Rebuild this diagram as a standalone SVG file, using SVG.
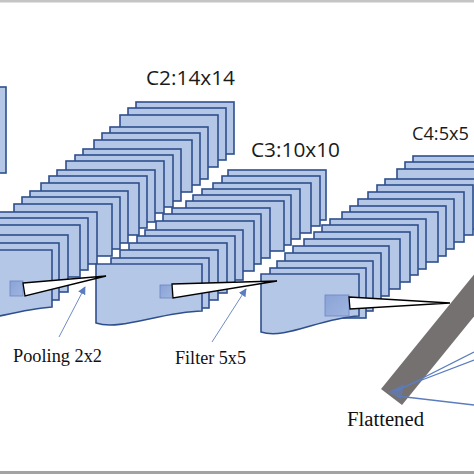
<svg xmlns="http://www.w3.org/2000/svg" width="474" height="474" viewBox="0 0 474 474">
<defs>
<style>
.r{fill:#b4c7e7;stroke:#2f4f8c;stroke-width:1.6}
.sq{fill:url(#sg);stroke:#6b86c0;stroke-width:0.8}
.w{fill:#fff;stroke:#000;stroke-width:1.3;stroke-linejoin:miter}
.lb{font-family:"Open Sans","Liberation Sans",sans-serif;font-size:20px;fill:#1a1a1a}
.sl{font-family:"Liberation Serif","Times New Roman",serif;fill:#111}
.ar{stroke:#6f8cc2;stroke-width:1;fill:none}
.bl{stroke:#5b7dbe;stroke-width:1.3;fill:none}
</style>
<linearGradient id="sg" x1="0" y1="0" x2="1" y2="1">
<stop offset="0" stop-color="#8aa3d6"/>
<stop offset="1" stop-color="#9fb5e0"/>
</linearGradient>
<marker id="ah" viewBox="0 0 10 10" refX="9" refY="5" markerWidth="8" markerHeight="8" markerUnits="userSpaceOnUse" orient="auto">
<path d="M0,0 L10,5 L0,10 z" fill="#5b7dbe"/>
</marker>
</defs>
<rect x="0" y="0" width="474" height="474" fill="#fff"/>
<rect x="0" y="0" width="474" height="2.5" fill="#c4c4c4"/>
<rect x="0" y="471" width="474" height="3" fill="#a3a3a3"/>

<g id="input-map">
<rect class="r" x="-10" y="87" width="16" height="86"/>
</g>

<g id="c2-stack">
<rect class="r" x="136" y="102" width="98" height="52"/>
<rect class="r" x="128" y="108" width="98" height="52"/>
<rect class="r" x="120" y="115" width="98" height="52"/>
<rect class="r" x="110" y="127" width="98" height="52"/>
<rect class="r" x="102" y="133" width="98" height="52"/>
<rect class="r" x="94" y="140" width="98" height="52"/>
<rect class="r" x="83" y="149" width="98" height="52"/>
<rect class="r" x="75" y="155" width="98" height="52"/>
<rect class="r" x="66" y="161" width="98" height="52"/>
<rect class="r" x="57" y="170" width="98" height="52"/>
<rect class="r" x="49" y="176" width="98" height="52"/>
<rect class="r" x="41" y="183" width="98" height="52"/>
<rect class="r" x="30" y="191" width="98" height="52"/>
<rect class="r" x="22" y="197" width="98" height="52"/>
<rect class="r" x="14" y="204" width="98" height="52"/>
<rect class="r" x="-1" y="212" width="98" height="52"/>
<rect class="r" x="-10" y="218" width="98" height="52"/>
<rect class="r" x="-18" y="225" width="98" height="52"/>
<rect class="r" x="-30" y="235" width="98" height="57"/>
<rect class="r" x="-39" y="243" width="98" height="57"/>
<path class="r" d="M-54,250 L52,250 L52,307 C10,310 -30,328 -54,320 Z"/>
<rect class="sq" x="10" y="281" width="13" height="15"/>
<text class="lb" x="146" y="85" textLength="89" lengthAdjust="spacingAndGlyphs">C2:14x14</text>
</g>

<g id="c3-stack">
<rect class="r" x="228" y="170" width="98" height="50"/>
<rect class="r" x="222" y="176" width="98" height="50"/>
<rect class="r" x="213" y="183" width="98" height="50"/>
<rect class="r" x="202" y="189" width="98" height="50"/>
<rect class="r" x="193" y="195" width="98" height="50"/>
<rect class="r" x="186" y="201" width="98" height="50"/>
<rect class="r" x="172" y="208" width="98" height="50"/>
<rect class="r" x="163" y="214" width="98" height="50"/>
<rect class="r" x="156" y="221" width="98" height="50"/>
<rect class="r" x="145" y="230" width="98" height="50"/>
<rect class="r" x="137" y="236" width="98" height="50"/>
<rect class="r" x="129" y="243" width="98" height="50"/>
<rect class="r" x="120" y="250" width="98" height="50"/>
<rect class="r" x="111" y="258" width="98" height="50"/>
<path class="r" d="M96,264 L202,264 L202,311 C160,312 120,331 96,323 Z"/>
<rect class="sq" x="160" y="285" width="12" height="13"/>
<text class="lb" x="251" y="157" textLength="89" lengthAdjust="spacingAndGlyphs">C3:10x10</text>
</g>

<g id="c4-stack">
<rect class="r" x="413" y="156" width="96" height="50"/>
<rect class="r" x="405" y="162" width="96" height="50"/>
<rect class="r" x="397" y="169" width="96" height="50"/>
<rect class="r" x="385" y="179" width="96" height="50"/>
<rect class="r" x="377" y="185" width="96" height="50"/>
<rect class="r" x="368" y="192" width="96" height="50"/>
<rect class="r" x="358" y="199" width="96" height="50"/>
<rect class="r" x="350" y="206" width="96" height="50"/>
<rect class="r" x="342" y="212" width="96" height="50"/>
<rect class="r" x="330" y="219" width="96" height="50"/>
<rect class="r" x="322" y="225" width="96" height="50"/>
<rect class="r" x="314" y="232" width="96" height="50"/>
<rect class="r" x="304" y="239" width="96" height="50"/>
<rect class="r" x="293" y="246" width="96" height="50"/>
<rect class="r" x="285" y="253" width="96" height="50"/>
<rect class="r" x="277" y="261" width="96" height="50"/>
<rect class="r" x="270" y="268" width="96" height="50"/>
<path class="r" d="M261,274 L359,274 L359,316 C320,318 285,340 261,332 Z"/>
<rect class="sq" x="325" y="295" width="24" height="21"/>
<text class="lb" x="412" y="140" font-size="18.5px" style="font-size:18.5px" textLength="57" lengthAdjust="spacingAndGlyphs">C4:5x5</text>
</g>

<g id="flattened">
<polygon points="381,389 402,405 528,250 507,234" fill="#767171"/>
<text class="sl" x="347" y="426" font-size="20" textLength="77" lengthAdjust="spacingAndGlyphs">Flattened</text>
</g>

<g id="labels">
<text class="sl" x="13" y="362" font-size="18" textLength="89" lengthAdjust="spacingAndGlyphs">Pooling 2x2</text>
<text class="sl" x="175" y="364" font-size="18" textLength="71" lengthAdjust="spacingAndGlyphs">Filter 5x5</text>
</g>

<g id="connectors">
<polygon class="w" points="23,283 106,276 25,296"/>
<polygon class="w" points="172,284 277,281 173,298"/>
<polygon class="w" points="349,297 450,303 350,309"/>
<line class="ar" x1="59" y1="337" x2="85" y2="287" marker-end="url(#ah)"/>
<line class="ar" x1="212" y1="342" x2="246" y2="289" marker-end="url(#ah)"/>
<polygon points="388,392 404,384 401,399" fill="#5f7bb5" opacity="0.7"/>
<line class="bl" x1="395" y1="392" x2="474" y2="352"/>
<line class="bl" x1="393" y1="391" x2="474" y2="360"/>
<line class="bl" x1="397" y1="396" x2="474" y2="405"/>
</g>
</svg>
